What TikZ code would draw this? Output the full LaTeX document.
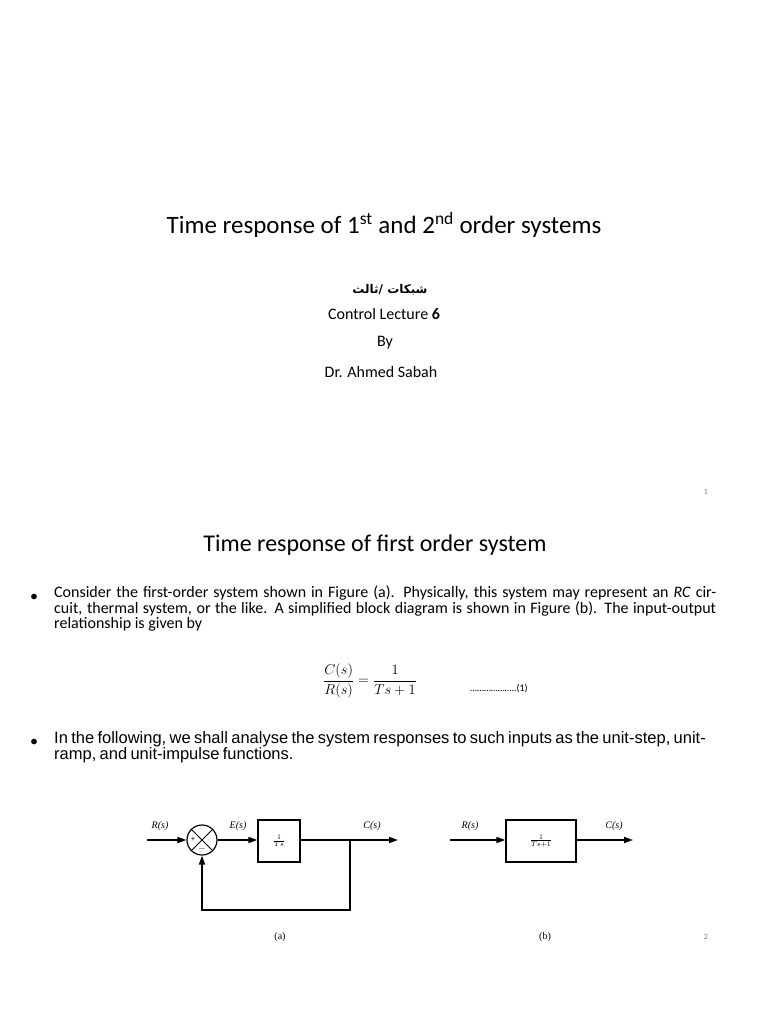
\documentclass[tikz,border=0pt]{standalone}
\usepackage{fontspec}
\setmainfont{Carlito}
\newfontfamily\arialf{Liberation Sans}
\newfontfamily\timesf{Liberation Serif}
\newfontfamily\arabicfont[Script=Arabic]{DejaVu Sans}
\TeXXeTstate=1
\usetikzlibrary{arrows.meta}
\begin{document}
\begin{tikzpicture}[x=1pt,y=-1pt,
  blk/.style={draw,line width=1.3pt,inner sep=0pt},
  sig/.style={line width=1.6pt},
  arr/.style={sig,-{Triangle[length=9pt,width=6pt]}},
  lbl/.style={font=\timesf\fontsize{10}{12}\selectfont\itshape,inner sep=0pt}]
\useasboundingbox (0,0) rectangle (768,1024);
\node (t1) at (384,225) {\fontsize{25}{30}\selectfont Time response of 1\textsuperscript{st} and 2\textsuperscript{nd} order systems};
\node (ar) at (390,290) {\arabicfont\bfseries\fontsize{12}{14}\selectfont\beginR شبكات /ثالث\endR};
\node (cl) at (384,314) {\fontsize{16}{19}\selectfont Control Lecture \textbf{6}};
\node (by) at (385,343) {\fontsize{16}{19}\selectfont By};
\node (dr) at (381,372) {\fontsize{16}{19}\selectfont Dr. Ahmed Sabah};
\node[text=gray] (p1) at (706,492) {\fontsize{8}{9}\selectfont 1};
\node (t2) at (375,545) {\fontsize{24}{29}\selectfont Time response of first order system};
\node (b1) at (34,598) {\fontsize{16}{19}\selectfont\textbullet};
\node[anchor=north west,text width=662pt,align=justify,inner sep=0pt] (para1) at (54,586)
 {\fontsize{16}{23.5}\selectfont Consider the first-order system shown in Figure (a). Physically, this system may represent an \textit{RC} circuit, thermal system, or the like. A simplified block diagram is shown in Figure (b). The input-output relationship is given by};
\node (eq) at (370,681) {\timesf\fontsize{15}{18}\selectfont$\displaystyle\frac{C(s)}{R(s)}=\frac{1}{Ts+1}$};
\node (en) at (499,689) {\fontsize{10}{12}\selectfont ………………..(1)};
\node (b2) at (34,743) {\fontsize{16}{19}\selectfont\textbullet};
\node[anchor=north west,text width=680pt,align=left,inner sep=0pt] (para2) at (54,731)
 {\arialf\fontsize{16.5}{23.5}\selectfont In the following, we shall analyse the system responses to such inputs as the unit-step, unit-ramp, and unit-impulse functions.};
% diagram (a)
\coordinate (ain) at (147,840);
\node[draw,circle,line width=1.2pt,minimum size=30pt,inner sep=0pt] (sum) at (202,840) {};
\draw[line width=1pt] (sum.north west)--(sum.south east) (sum.north east)--(sum.south west);
\node[font=\fontsize{8}{8}\selectfont,inner sep=0pt] at (193,839) {+};
\node[font=\fontsize{9}{9}\selectfont,inner sep=0pt] at (202,849) {$-$};
\node[blk,minimum width=42pt,minimum height=42pt] (g) at (279,841) {\timesf\fontsize{10}{12}\selectfont$\frac{1}{Ts}$};
\coordinate (aout) at (398,840);
\coordinate (br) at (350,840);
\coordinate (bl) at (350,910);
\coordinate (bb) at (202,910);
\draw[arr] (ain) -- (sum);
\draw[arr] (sum) -- (g.west|-sum);
\draw[arr] (g.east|-sum) -- (aout);
\draw[arr] (br) -- (bl) -- (bb) -- (sum.south);
\node[lbl] at (160,826) {R(s)};
\node[lbl] at (238,826) {E(s)};
\node[lbl] at (372,826) {C(s)};
\node[font=\timesf\fontsize{10}{12}\selectfont] at (280,937) {(a)};
% diagram (b)
\coordinate (bin) at (450,840);
\node[blk,minimum width=70pt,minimum height=42pt] (h) at (541,841) {\timesf\fontsize{10}{12}\selectfont$\frac{1}{Ts+1}$};
\coordinate (bout) at (633,840);
\draw[arr] (bin) -- (h.west|-bin);
\draw[arr] (h.east|-bin) -- (bout);
\node[lbl] at (470,826) {R(s)};
\node[lbl] at (614,826) {C(s)};
\node[font=\timesf\fontsize{10}{12}\selectfont] at (545,937) {(b)};
\node[text=gray] (p2) at (706,937) {\fontsize{8}{9}\selectfont 2};
\end{tikzpicture}
\end{document}
